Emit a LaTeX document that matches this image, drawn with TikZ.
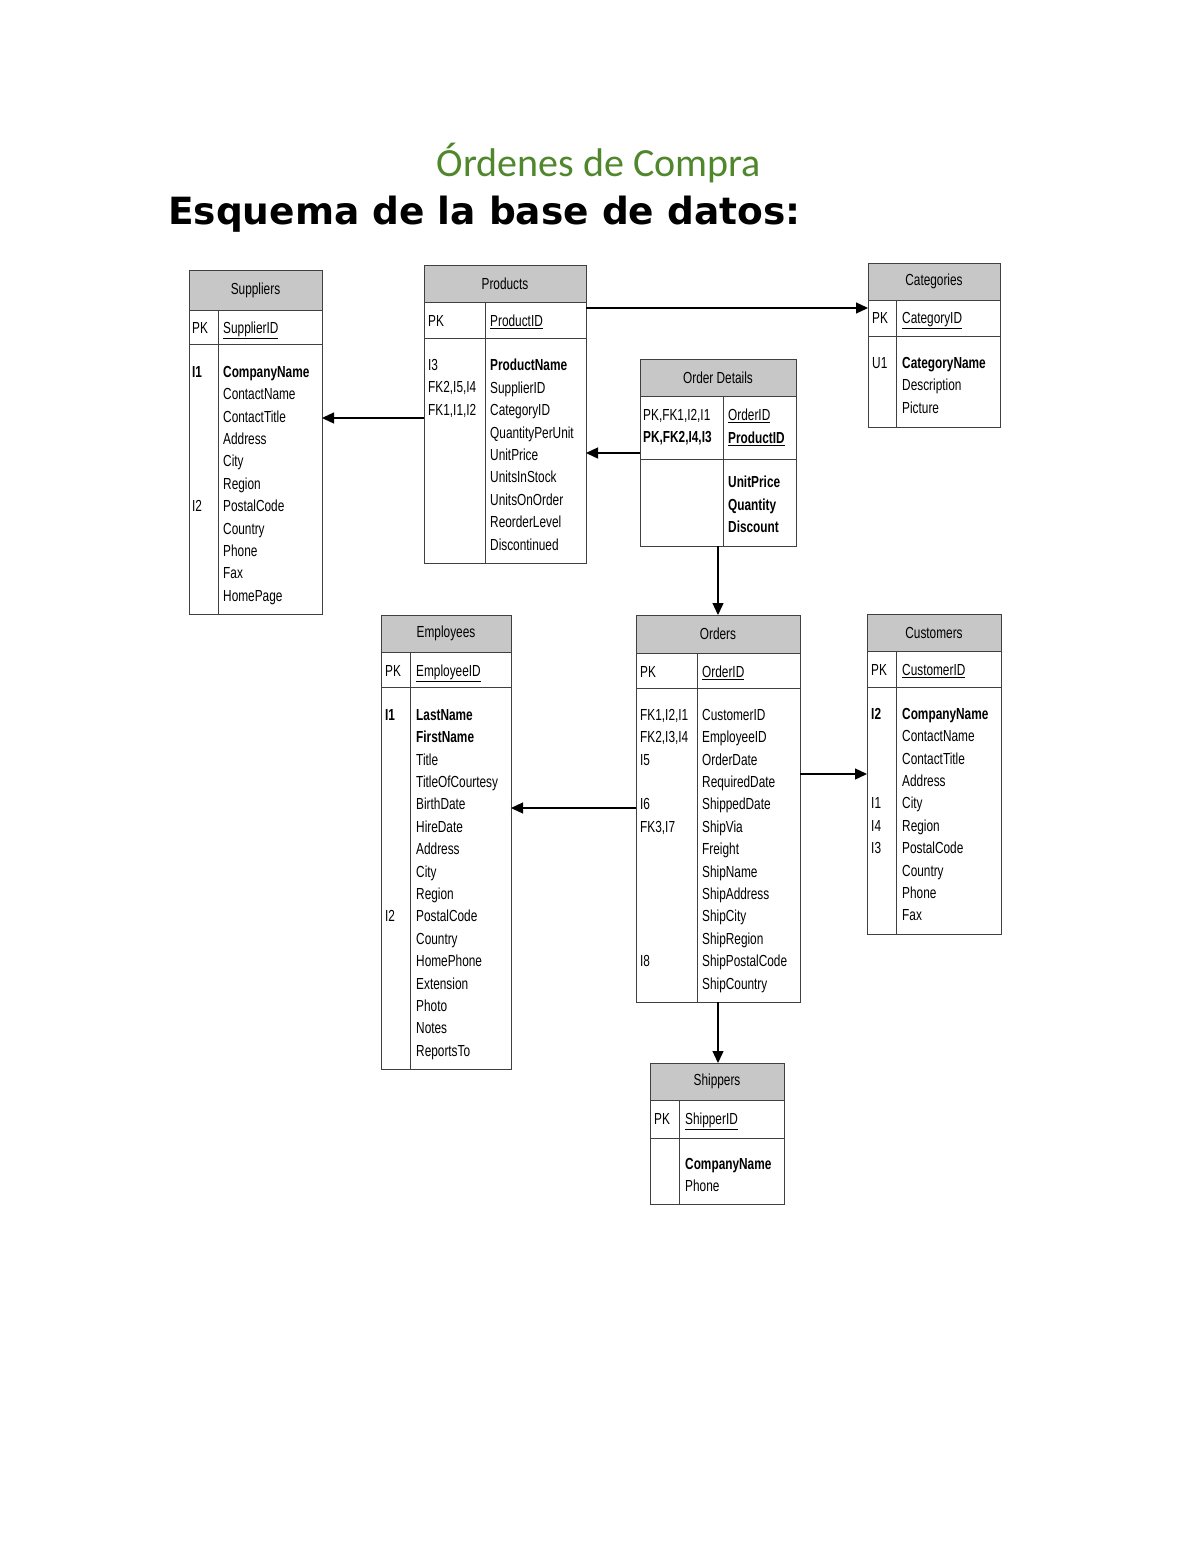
\documentclass[tikz,border=0pt]{standalone}
\usepackage{fontspec}
\setmainfont{Liberation Sans}
\newfontfamily\tbfont[FakeStretch=0.74]{Liberation Sans}
\newfontfamily\ttlfont{Carlito}
\newfontfamily\hdfont{DejaVu Sans}
\usetikzlibrary{arrows.meta}
\definecolor{ttlgreen}{RGB}{80,135,45}
\tikzset{
 tline/.style={draw=black!75,line width=1pt},
 hdr/.style={fill=black!22,draw=black!75,line width=1pt},
 ttl/.style={font=\tbfont\fontsize{16}{20}\selectfont,inner sep=0pt},
 col/.style={font=\tbfont\fontsize{16}{22.4}\selectfont,align=left,anchor=north west,inner sep=0pt,yshift=-6pt},
 conn/.style={line width=1.3pt,-{Triangle[length=12pt,width=11pt]}}
}
\newcommand\etable[9]{%
 \draw[hdr] (#2,#5) rectangle (#4,#6);
 \draw[tline] (#2,#6) rectangle (#4,#8);
 \draw[tline] (#2,#7) -- (#4,#7);
 \draw[tline] (#3,#6) -- (#3,#8);
 \node[ttl] (#1) at ({(#2+#4)/2},{(#5+#6)/2}) {#9};}
\begin{document}
\begin{tikzpicture}[x=1pt,y=-1pt]
\useasboundingbox[fill=white] (0,0) rectangle (1200,1553);
\node[font=\ttlfont\fontsize{40}{40}\selectfont,text=ttlgreen,inner sep=0pt] (t1) at (599,163) {Órdenes de Compra};
\node[font=\hdfont\bfseries\fontsize{37.5}{37.5}\selectfont,anchor=west,inner sep=0pt] (t2) at (168,214) {Esquema de la base de datos:};
% Suppliers
\etable{sup}{189}{218}{322}{270}{310}{344}{614}{Suppliers}
\node[col] (supk) at (192,316) {PK};
\node[col] (supkr) at (223,316) {\underline{SupplierID}};
\node[col] (supl) at (192,360) {\textbf{I1}\\\mbox{}\\\mbox{}\\\mbox{}\\\mbox{}\\\mbox{}\\I2};
\node[col] (supr) at (223,360) {\textbf{CompanyName}\\ContactName\\ContactTitle\\Address\\City\\Region\\PostalCode\\Country\\Phone\\Fax\\HomePage};
% Products
\etable{pro}{424}{485}{586}{265}{302}{338}{563}{Products}
\node[col] (prok) at (428,309) {PK};
\node[col] (prokr) at (490,309) {\underline{ProductID}};
\node[col] (prol) at (428,353) {I3\\FK2,I5,I4\\FK1,I1,I2};
\node[col] (pror) at (490,353) {\textbf{ProductName}\\SupplierID\\CategoryID\\QuantityPerUnit\\UnitPrice\\UnitsInStock\\UnitsOnOrder\\ReorderLevel\\Discontinued};
% Categories
\etable{cat}{868}{896}{1000}{263}{300}{336}{427}{Categories}
\node[col] (catk) at (872,306) {PK};
\node[col] (catkr) at (902,306) {\underline{CategoryID}};
\node[col] (catl) at (872,351) {U1};
\node[col] (catr) at (902,351) {\textbf{CategoryName}\\Description\\Picture};
% Order Details
\etable{od}{640}{723}{796}{359}{396}{459}{546}{Order Details}
\node[col] (odk) at (643,403) {PK,FK1,I2,I1\\\textbf{PK,FK2,I4,I3}};
\node[col] (odkr) at (728,403) {\underline{OrderID}\\\textbf{\underline{ProductID}}};
\node[col] (odr) at (728,470) {\textbf{UnitPrice}\\\textbf{Quantity}\\\textbf{Discount}};
% Employees
\etable{emp}{381}{410}{511}{615}{652}{687}{1069}{Employees}
\node[col] (empk) at (385,659) {PK};
\node[col] (empkr) at (416,659) {\underline{EmployeeID}};
\node[col] (empl) at (385,703) {\textbf{I1}\\\mbox{}\\\mbox{}\\\mbox{}\\\mbox{}\\\mbox{}\\\mbox{}\\\mbox{}\\\mbox{}\\I2};
\node[col] (empr) at (416,703) {\textbf{LastName}\\\textbf{FirstName}\\Title\\TitleOfCourtesy\\BirthDate\\HireDate\\Address\\City\\Region\\PostalCode\\Country\\HomePhone\\Extension\\Photo\\Notes\\ReportsTo};
% Orders
\etable{ord}{636}{697}{800}{615}{653}{688}{1002}{Orders}
\node[col] (ordk) at (640,660) {PK};
\node[col] (ordkr) at (702,660) {\underline{OrderID}};
\node[col] (ordl) at (640,703) {FK1,I2,I1\\FK2,I3,I4\\I5\\\mbox{}\\I6\\FK3,I7\\\mbox{}\\\mbox{}\\\mbox{}\\\mbox{}\\\mbox{}\\I8};
\node[col] (ordr) at (702,703) {CustomerID\\EmployeeID\\OrderDate\\RequiredDate\\ShippedDate\\ShipVia\\Freight\\ShipName\\ShipAddress\\ShipCity\\ShipRegion\\ShipPostalCode\\ShipCountry};
% Customers
\etable{cus}{867}{896}{1001}{614}{651}{687}{934}{Customers}
\node[col] (cusk) at (871,658) {PK};
\node[col] (cuskr) at (902,658) {\underline{CustomerID}};
\node[col] (cusl) at (871,702) {\textbf{I2}\\\mbox{}\\\mbox{}\\\mbox{}\\I1\\I4\\I3};
\node[col] (cusr) at (902,702) {\textbf{CompanyName}\\ContactName\\ContactTitle\\Address\\City\\Region\\PostalCode\\Country\\Phone\\Fax};
% Shippers
\etable{shp}{650}{679}{784}{1063}{1100}{1138}{1204}{Shippers}
\node[col] (shpk) at (654,1107) {PK};
\node[col] (shpkr) at (685,1107) {\underline{ShipperID}};
\node[col] (shpr) at (685,1152) {\textbf{CompanyName}\\Phone};
% connectors
\coordinate (a1) at (586,308); \coordinate (b1) at (868,308);
\coordinate (a2) at (424,418); \coordinate (b2) at (322,418);
\coordinate (a3) at (640,453); \coordinate (b3) at (586,453);
\coordinate (a4) at (718,546); \coordinate (b4) at (718,615);
\coordinate (a5) at (636,808); \coordinate (b5) at (511,808);
\coordinate (a6) at (800,774); \coordinate (b6) at (867,774);
\coordinate (a7) at (718,1002); \coordinate (b7) at (718,1063);
\foreach \i in {1,...,7} \draw[conn] (a\i) -- (b\i);
\end{tikzpicture}
\end{document}
